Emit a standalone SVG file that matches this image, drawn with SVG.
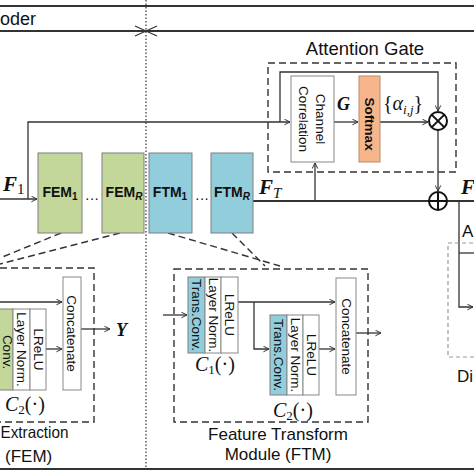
<svg xmlns="http://www.w3.org/2000/svg" width="474" height="474" viewBox="0 0 474 474">
<defs>
<style>
.ln{stroke:#333;stroke-width:1.3;fill:none}
.thick{stroke:#333;stroke-width:2;fill:none}
.dash{stroke:#333;stroke-width:1.4;fill:none;stroke-dasharray:7,4}
.gdash{stroke:#999;stroke-width:1.2;fill:none;stroke-dasharray:4,3}
.dot{stroke:#333;stroke-width:1.2;fill:none;stroke-dasharray:1.5,2}
.box{fill:#fff;stroke:#888;stroke-width:1}
.fem{fill:#C4D79B;stroke:#7F7F7F;stroke-width:1}
.ftm{fill:#92CDDC;stroke:#7F7F7F;stroke-width:1}
.soft{fill:#F6B58A;stroke:#B98B6B;stroke-width:1}
.sans{font-family:"Liberation Sans",Arial,sans-serif;fill:#111}
.serif{font-family:"Liberation Serif","Times New Roman",serif;fill:#111}
.rot{font-family:"Liberation Sans",Arial,sans-serif;font-size:13.5px;fill:#111;text-anchor:middle}
.blk{font-family:"Liberation Sans",Arial,sans-serif;font-size:14px;font-weight:bold;fill:#111;text-anchor:middle}
</style>
<marker id="ah" viewBox="0 0 10 10" refX="9" refY="5" markerWidth="7" markerHeight="7" orient="auto" markerUnits="userSpaceOnUse">
<path d="M1,1 L9,5 L1,9" fill="none" stroke="#333" stroke-width="1.4"/>
</marker>
</defs>
<rect width="474" height="474" fill="#fff"/>

<g id="frame">
<line x1="0" y1="6" x2="474" y2="6" class="thick"/>
<line x1="0" y1="31" x2="474" y2="31" class="thick"/>
<line x1="0" y1="469" x2="474" y2="469" class="thick"/>
<line x1="146" y1="0" x2="146" y2="467" class="dot"/>
<line x1="135" y1="26" x2="157" y2="36" class="ln"/>
<line x1="135" y1="36" x2="157" y2="26" class="ln"/>
<text x="36" y="25" class="sans" font-size="18" text-anchor="end">oder</text>
</g>

<g id="connectors">
<line x1="0" y1="199" x2="37" y2="199" class="ln" marker-end="url(#ah)"/>
<polyline points="28,199 28,122 290,122" class="ln" marker-end="url(#ah)"/>
<polyline points="280,122 280,72 438,72 438,111" class="ln" marker-end="url(#ah)"/>
<line x1="334" y1="122" x2="358" y2="122" class="ln" marker-end="url(#ah)"/>
<line x1="380" y1="122" x2="428" y2="122" class="ln" marker-end="url(#ah)"/>
<line x1="438" y1="130" x2="438" y2="191" class="ln" marker-end="url(#ah)"/>
<line x1="253" y1="201" x2="429" y2="201" class="thick"/>
<line x1="447" y1="201" x2="474" y2="201" class="thick"/>
<line x1="315" y1="201" x2="315" y2="163" class="ln" marker-end="url(#ah)"/>
<polyline points="459,201 459,307 473,307" class="ln" marker-end="url(#ah)"/>
<line x1="459" y1="253" x2="474" y2="253" class="ln"/>
<line x1="61" y1="233" x2="0" y2="258" class="dash"/>
<line x1="120" y1="233" x2="0" y2="264" class="dash"/>
<line x1="168" y1="233" x2="280" y2="266" class="dash"/>
<line x1="232" y1="233" x2="265" y2="266" class="dash"/>
<line x1="0" y1="302" x2="62" y2="302" class="ln" marker-end="url(#ah)"/>
<line x1="46" y1="349" x2="62" y2="349" class="ln" marker-end="url(#ah)"/>
<line x1="81" y1="329" x2="110" y2="329" class="ln" marker-end="url(#ah)"/>
<line x1="163" y1="315" x2="187" y2="315" class="ln" marker-end="url(#ah)"/>
<line x1="238" y1="302" x2="335" y2="302" class="ln" marker-end="url(#ah)"/>
<polyline points="254,302 254,349 269,349" class="ln" marker-end="url(#ah)"/>
<line x1="319" y1="349" x2="335" y2="349" class="ln" marker-end="url(#ah)"/>
<line x1="356" y1="333" x2="381" y2="333" class="ln" marker-end="url(#ah)"/>
</g>

<g id="labels">
<text x="3" y="191" class="serif" font-size="21" font-weight="bold" font-style="italic">F<tspan font-size="15" font-weight="normal" font-style="normal" dy="3">1</tspan></text>
<text x="259" y="194" class="serif" font-size="21" font-weight="bold" font-style="italic">F<tspan font-size="15" font-weight="normal" dy="4">T</tspan></text>
<text x="461" y="194" class="serif" font-size="21" font-weight="bold" font-style="italic">F</text>
<text x="337" y="110" class="serif" font-size="18" font-weight="bold" font-style="italic">G</text>
<text x="383" y="110" class="serif" font-size="20">{<tspan font-style="italic">α</tspan><tspan font-size="13" font-style="italic" dy="4">i,j</tspan><tspan dy="-4">}</tspan></text>
<text x="116" y="336" class="serif" font-size="18" font-weight="bold" font-style="italic">Y</text>
<text x="365" y="55" class="sans" font-size="18.5" text-anchor="middle">Attention Gate</text>
<text x="462" y="237" class="sans" font-size="17">A</text>
<text x="457" y="382" class="sans" font-size="17">Di</text>
</g>

<g id="attention-gate">
<rect x="268" y="63" width="188" height="109" class="dash"/>
</g>
<g id="channel-correlation">
<rect x="291" y="76" width="43" height="86" class="box"/>
<text transform="translate(312.5,119) rotate(90)" class="rot" font-size="14.5"><tspan x="0" y="-3">Channel</tspan><tspan x="0" y="13.5">Correlation</tspan></text>
</g>
<g id="softmax">
<rect x="359" y="76" width="21" height="86" class="soft"/>
<text transform="translate(364.5,124) rotate(90)" class="rot" font-size="15" font-weight="bold">Softmax</text>
</g>
<g id="mult">
<circle cx="438" cy="121" r="9" fill="#fff" stroke="#111" stroke-width="2"/>
<line x1="431.6" y1="114.6" x2="444.4" y2="127.4" stroke="#111" stroke-width="2"/>
<line x1="431.6" y1="127.4" x2="444.4" y2="114.6" stroke="#111" stroke-width="2"/>
</g>
<g id="add">
<circle cx="438" cy="201" r="9" fill="#fff" stroke="#111" stroke-width="2"/>
<line x1="429" y1="201" x2="447" y2="201" stroke="#111" stroke-width="2"/>
<line x1="438" y1="192" x2="438" y2="210" stroke="#111" stroke-width="2"/>
</g>
<g id="right-box">
<rect x="448" y="243" width="40" height="114" class="gdash"/>
</g>

<g id="fem1">
<rect x="38" y="153" width="44" height="80" class="fem"/>
<text x="60" y="197" class="blk">FEM<tspan font-size="10" dy="3">1</tspan></text>
</g>
<text x="85" y="203" class="sans" font-size="14">···</text>
<g id="femR">
<rect x="102" y="153" width="42" height="80" class="fem"/>
<text x="124" y="197" class="blk">FEM<tspan font-size="10" font-style="italic" dy="3">R</tspan></text>
</g>
<g id="ftm1">
<rect x="149" y="153" width="43" height="80" class="ftm"/>
<text x="170" y="197" class="blk">FTM<tspan font-size="10" dy="3">1</tspan></text>
</g>
<text x="195" y="203" class="sans" font-size="14">···</text>
<g id="ftmR">
<rect x="211" y="153" width="42" height="80" class="ftm"/>
<text x="232" y="197" class="blk">FTM<tspan font-size="10" font-style="italic" dy="3">R</tspan></text>
</g>

<g id="fem-module">
<path d="M0,268 H94 V422 H0" class="dash"/>
<rect x="-10" y="309" width="23" height="81" class="fem"/>
<text transform="translate(3,352) rotate(90)" class="rot">Conv.</text>
<rect x="13" y="309" width="17" height="81" class="box"/>
<text transform="translate(17,349.5) rotate(90)" class="rot">Layer Norm.</text>
<rect x="30" y="309" width="16" height="81" class="box"/>
<text transform="translate(33.5,349.5) rotate(90)" class="rot">LReLU</text>
<rect x="63" y="277" width="18" height="113" class="box"/>
<text transform="translate(67,333.5) rotate(90)" class="rot" font-size="14">Concatenate</text>
<text x="5" y="411" class="serif" font-size="20" font-style="italic">C<tspan font-size="13" font-style="normal" dy="3">2</tspan><tspan font-style="normal" dy="-3">(·)</tspan></text>
<text x="0.5" y="438" class="sans" font-size="16.5" textLength="68" lengthAdjust="spacingAndGlyphs">Extraction</text>
<text x="5" y="462" class="sans" font-size="17">(FEM)</text>
</g>

<g id="ftm-module">
<rect x="174" y="269" width="194" height="153" class="dash"/>
<rect x="188" y="277" width="17" height="76" class="ftm"/>
<text transform="translate(192,315) rotate(90)" class="rot">Trans.Conv.</text>
<rect x="205" y="277" width="16" height="76" class="box"/>
<text transform="translate(208.5,315) rotate(90)" class="rot">Layer Norm.</text>
<rect x="221" y="277" width="17" height="76" class="box"/>
<text transform="translate(225,315) rotate(90)" class="rot">LReLU</text>
<text x="195" y="371" class="serif" font-size="20" font-style="italic">C<tspan font-size="13" font-style="normal" dy="3">1</tspan><tspan font-style="normal" dy="-3">(·)</tspan></text>
<rect x="270" y="315" width="17" height="80" class="ftm"/>
<text transform="translate(274,355) rotate(90)" class="rot">Trans.Conv.</text>
<rect x="287" y="315" width="16" height="80" class="box"/>
<text transform="translate(290.5,355) rotate(90)" class="rot">Layer Norm.</text>
<rect x="303" y="315" width="16" height="80" class="box"/>
<text transform="translate(306.5,355) rotate(90)" class="rot">LReLU</text>
<text x="273" y="417" class="serif" font-size="20" font-style="italic">C<tspan font-size="13" font-style="normal" dy="3">2</tspan><tspan font-style="normal" dy="-3">(·)</tspan></text>
<rect x="336" y="278" width="20" height="117" class="box"/>
<text transform="translate(341.5,336.5) rotate(90)" class="rot" font-size="14">Concatenate</text>
<text x="278" y="440" class="sans" font-size="17" text-anchor="middle">Feature Transform</text>
<text x="278" y="460" class="sans" font-size="17" text-anchor="middle">Module (FTM)</text>
</g>
</svg>
